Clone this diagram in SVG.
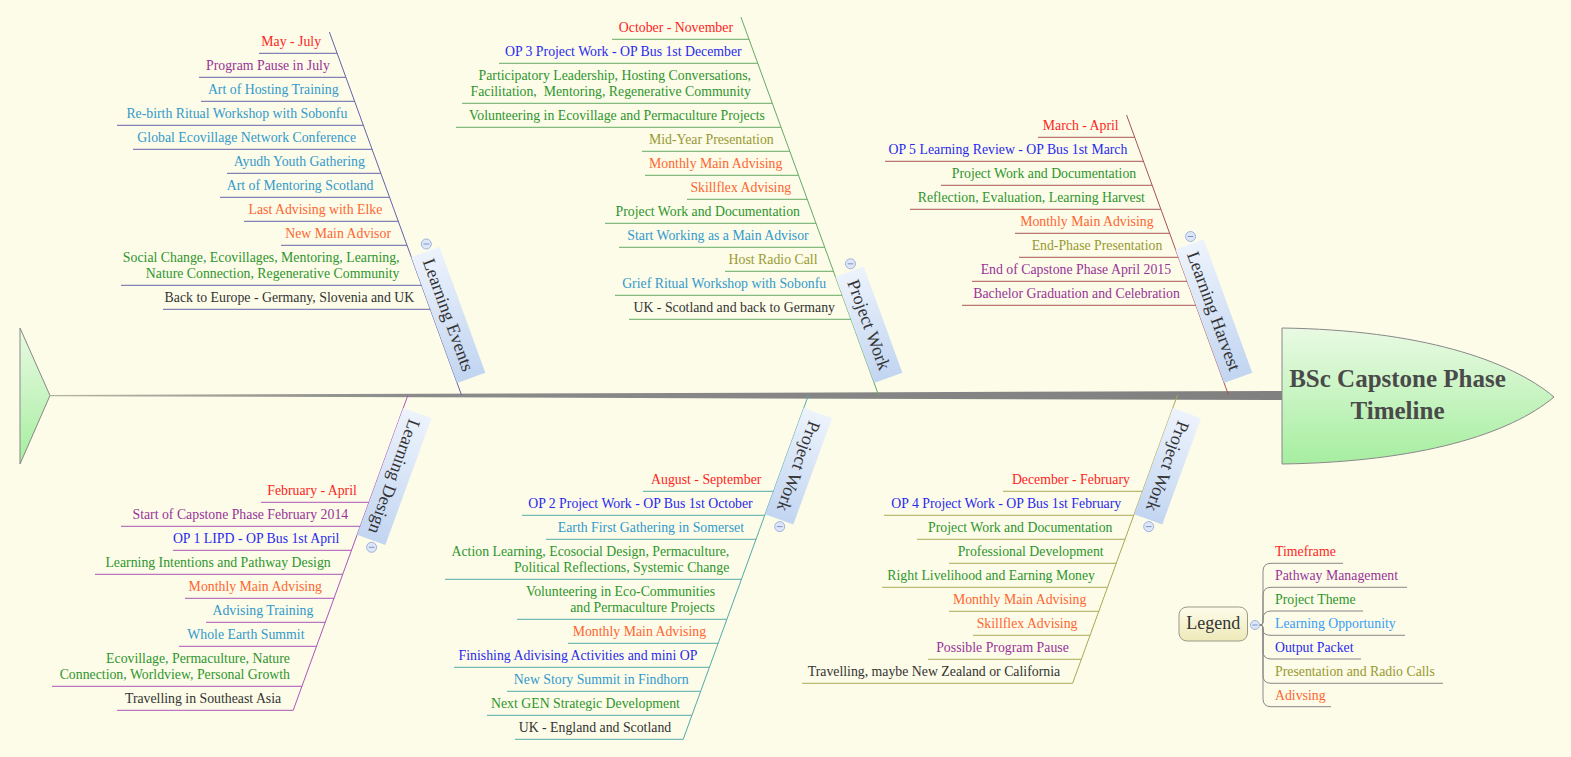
<svg xmlns="http://www.w3.org/2000/svg" width="1571" height="757" viewBox="0 0 1571 757">
<defs>
<linearGradient id="gGreen" x1="0" y1="0" x2="0" y2="1"><stop offset="0" stop-color="#e9faE3"/><stop offset="1" stop-color="#a6eea0"/></linearGradient>
<linearGradient id="gBox" x1="0" y1="0" x2="1" y2="0"><stop offset="0" stop-color="#edf3fc"/><stop offset="1" stop-color="#c2d5f1"/></linearGradient>
<linearGradient id="gLegend" x1="0" y1="0" x2="0" y2="1"><stop offset="0" stop-color="#fdfcea"/><stop offset="1" stop-color="#eee9b8"/></linearGradient>
<linearGradient id="gSpine" x1="0" y1="0" x2="1" y2="0"><stop offset="0" stop-color="#b4b4a4"/><stop offset="0.3" stop-color="#8a8a8a"/><stop offset="1" stop-color="#808080"/></linearGradient>
</defs>
<style>
text{font-family:"Liberation Serif","Times New Roman",serif;font-size:13.8px}
.it{text-anchor:end}
.red{fill:#ff2424}.pur{fill:#993399}.grn{fill:#2f952f}.lb{fill:#3399cc}.blu{fill:#2a2aee}.olv{fill:#999933}.org{fill:#ff6633}.drk{fill:#333333}.lop{fill:#3a9cf5}
.le{stroke:#6464aa;stroke-width:1;fill:none}
.pw1{stroke:#66aa66;stroke-width:1;fill:none}
.lh{stroke:#aa5555;stroke-width:1;fill:none}
.ld{stroke:#aa55bb;stroke-width:1;fill:none}
.pw2{stroke:#55aaaa;stroke-width:1;fill:none}
.pw3{stroke:#aaaa55;stroke-width:1;fill:none}
.lg{stroke:#888;stroke-width:1;fill:none}
.lbox{fill:url(#gBox)}
.lbl{font-size:18px;fill:#333;text-anchor:middle}
.col{fill:#dde7f8;stroke:#9fb2de;stroke-width:1}
.colm{stroke:#7f93c4;stroke-width:1}
</style>
<rect x="0" y="0" width="1571" height="757" fill="#fcfce8"/>

<g id="connectors">
<polygon points="50,395 1282,391 1282,400 50,396.2" fill="url(#gSpine)"/>
<line class="le" x1="329.4" y1="32" x2="461.5" y2="395"/>
<line class="pw1" x1="740.9" y1="17" x2="878.5" y2="395"/>
<line class="lh" x1="1126.6" y1="115" x2="1228.5" y2="395"/>
<line class="ld" x1="408" y1="395" x2="293.2" y2="710.3"/>
<line class="pw2" x1="808.5" y1="395" x2="683.2" y2="739.3"/>
<line class="pw3" x1="1177.5" y1="395" x2="1072.6" y2="683.3"/>
<path class="lg" d="M1259.5,625 C1263,625 1263,625 1263,615 L1263,571.3 Q1263,563.3 1271,563.3 H1343"/>
<path class="lg" d="M1259.5,625 C1263,625 1263,625 1263,615 L1263,595.3 Q1263,587.3 1271,587.3 H1407"/>
<path class="lg" d="M1259.5,625 C1263,625 1263,622 1263,619 Q1263,611 1271,611 H1363"/>
<path class="lg" d="M1259.5,625 C1263,625 1263,628 1263,630 Q1263,635.3 1271,635.3 H1405"/>
<path class="lg" d="M1259.5,625 C1263,625 1263,625 1263,635 L1263,651 Q1263,659 1271,659 H1361"/>
<path class="lg" d="M1259.5,625 C1263,625 1263,625 1263,635 L1263,675.3 Q1263,683.3 1271,683.3 H1443"/>
<path class="lg" d="M1259.5,625 C1263,625 1263,625 1263,635 L1263,698.7 Q1263,706.7 1271,706.7 H1331"/>
</g>

<g id="tail"><polygon points="20,328 50,395.5 20,464" fill="url(#gGreen)" stroke="#888" stroke-width="1"/></g>

<g id="head">
<path d="M1282,328 C1420,330 1510,360 1554,397 C1510,434 1420,462 1282,464 Z" fill="url(#gGreen)" stroke="#888" stroke-width="1"/>
<text x="1397.5" y="387" style="font-size:25px;font-weight:bold;fill:#4a4a4a;text-anchor:middle">BSc Capstone Phase</text>
<text x="1397.5" y="418.5" style="font-size:25px;font-weight:bold;fill:#4a4a4a;text-anchor:middle">Timeline</text>
</g>

<!-- Learning Events -->
<g id="learning-events">
<g transform="translate(411.3,257) rotate(70)"><rect class="lbox" x="0" y="-30" width="134" height="30"/><text class="lbl" x="67" y="-9">Learning Events</text></g>
<circle class="col" cx="426.3" cy="244" r="5"/><line class="colm" x1="423.5" y1="244" x2="429.1" y2="244"/>
</g>
<g id="le-items">
<g id="le1"><text class="it red" x="321.1" y="45.8">May - July</text><line class="le" x1="259" y1="53.3" x2="337.1" y2="53.3"/></g>
<g id="le2"><text class="it pur" x="329.8" y="69.8">Program Pause in July</text><line class="le" x1="199" y1="77.3" x2="345.8" y2="77.3"/></g>
<g id="le3"><text class="it lb" x="338.6" y="93.8">Art of Hosting Training</text><line class="le" x1="201" y1="101.3" x2="354.6" y2="101.3"/></g>
<g id="le4"><text class="it lb" x="347.3" y="117.8">Re-birth Ritual Workshop with Sobonfu</text><line class="le" x1="117" y1="125.3" x2="363.3" y2="125.3"/></g>
<g id="le5"><text class="it lb" x="356.1" y="141.8">Global Ecovillage Network Conference</text><line class="le" x1="133" y1="149.3" x2="372.1" y2="149.3"/></g>
<g id="le6"><text class="it lb" x="364.8" y="165.8">Ayudh Youth Gathering</text><line class="le" x1="227" y1="173.3" x2="380.8" y2="173.3"/></g>
<g id="le7"><text class="it lb" x="373.5" y="189.8">Art of Mentoring Scotland</text><line class="le" x1="220" y1="197.3" x2="389.5" y2="197.3"/></g>
<g id="le8"><text class="it org" x="382.3" y="213.8">Last Advising with Elke</text><line class="le" x1="244" y1="221.3" x2="398.3" y2="221.3"/></g>
<g id="le9"><text class="it org" x="391" y="237.8">New Main Advisor</text><line class="le" x1="281" y1="245.3" x2="407" y2="245.3"/></g>
<g id="le10"><text class="it grn" x="399.5" y="261.8">Social Change, Ecovillages, Mentoring, Learning,</text><text class="it grn" x="399.5" y="277.8">Nature Connection, Regenerative Community</text><line class="le" x1="121" y1="285.3" x2="421.6" y2="285.3"/></g>
<g id="le11"><text class="it drk" x="414.3" y="301.8">Back to Europe - Germany, Slovenia and UK</text><line class="le" x1="163" y1="309.3" x2="430.3" y2="309.3"/></g>
</g>

<!-- Project Work (upper) -->
<g id="project-work-1">
<g transform="translate(835.5,276.8) rotate(70)"><rect class="lbox" x="0" y="-30" width="113" height="30"/><text class="lbl" x="56.5" y="-9">Project Work</text></g>
<circle class="col" cx="850.5" cy="263.8" r="5"/><line class="colm" x1="847.7" y1="263.8" x2="853.3" y2="263.8"/>
</g>
<g id="pw1-items">
<g id="pw1a"><text class="it red" x="733" y="31.8">October - November</text><line class="pw1" x1="612" y1="39.3" x2="749" y2="39.3"/></g>
<g id="pw1b"><text class="it blu" x="741.7" y="55.8">OP 3 Project Work - OP Bus 1st December</text><line class="pw1" x1="499" y1="63.3" x2="757.7" y2="63.3"/></g>
<g id="pw1c"><text class="it grn" x="751" y="79.8">Participatory Leadership, Hosting Conversations,</text><text class="it grn" x="751" y="95.8">Facilitation,&#160; Mentoring, Regenerative Community</text><line class="pw1" x1="462" y1="103.3" x2="772.3" y2="103.3"/></g>
<g id="pw1d"><text class="it grn" x="765" y="119.8">Volunteering in Ecovillage and Permaculture Projects</text><line class="pw1" x1="456" y1="127.3" x2="781" y2="127.3"/></g>
<g id="pw1e"><text class="it olv" x="773.7" y="143.8">Mid-Year Presentation</text><line class="pw1" x1="642" y1="151.3" x2="789.7" y2="151.3"/></g>
<g id="pw1f"><text class="it org" x="782.4" y="167.8">Monthly Main Advising</text><line class="pw1" x1="645" y1="175.3" x2="798.4" y2="175.3"/></g>
<g id="pw1g"><text class="it org" x="791.2" y="191.8">Skillflex Advising</text><line class="pw1" x1="687" y1="199.3" x2="807.2" y2="199.3"/></g>
<g id="pw1h"><text class="it grn" x="800" y="215.8">Project Work and Documentation</text><line class="pw1" x1="605" y1="223.3" x2="816" y2="223.3"/></g>
<g id="pw1i"><text class="it lb" x="808.7" y="239.8">Start Working as a Main Advisor</text><line class="pw1" x1="619" y1="247.3" x2="824.7" y2="247.3"/></g>
<g id="pw1j"><text class="it olv" x="817.5" y="263.8">Host Radio Call</text><line class="pw1" x1="725" y1="271.3" x2="833.5" y2="271.3"/></g>
<g id="pw1k"><text class="it lb" x="826.2" y="287.8">Grief Ritual Workshop with Sobonfu</text><line class="pw1" x1="615" y1="295.3" x2="842.2" y2="295.3"/></g>
<g id="pw1l"><text class="it drk" x="835" y="311.8">UK - Scotland and back to Germany</text><line class="pw1" x1="629" y1="319.3" x2="851" y2="319.3"/></g>
</g>

<!-- Learning Harvest -->
<g id="learning-harvest">
<g transform="translate(1175.5,249.5) rotate(70)"><rect class="lbox" x="0" y="-30" width="142" height="30"/><text class="lbl" x="71" y="-9">Learning Harvest</text></g>
<circle class="col" cx="1190.5" cy="236.5" r="5"/><line class="colm" x1="1187.7" y1="236.5" x2="1193.3" y2="236.5"/>
</g>
<g id="lh-items">
<g id="lh1"><text class="it red" x="1118.7" y="129.8">March - April</text><line class="lh" x1="1038" y1="137.3" x2="1134.7" y2="137.3"/></g>
<g id="lh2"><text class="it blu" x="1127.4" y="153.8">OP 5 Learning Review - OP Bus 1st March</text><line class="lh" x1="885" y1="161.3" x2="1143.4" y2="161.3"/></g>
<g id="lh3"><text class="it grn" x="1136.2" y="177.8">Project Work and Documentation</text><line class="lh" x1="941" y1="185.3" x2="1152.2" y2="185.3"/></g>
<g id="lh4"><text class="it grn" x="1144.9" y="201.8">Reflection, Evaluation, Learning Harvest</text><line class="lh" x1="910" y1="209.3" x2="1160.9" y2="209.3"/></g>
<g id="lh5"><text class="it org" x="1153.6" y="225.8">Monthly Main Advising</text><line class="lh" x1="1015" y1="233.3" x2="1169.6" y2="233.3"/></g>
<g id="lh6"><text class="it olv" x="1162.3" y="249.8">End-Phase Presentation</text><line class="lh" x1="1019" y1="257.3" x2="1178.3" y2="257.3"/></g>
<g id="lh7"><text class="it pur" x="1171.1" y="273.8">End of Capstone Phase April 2015</text><line class="lh" x1="972" y1="281.3" x2="1187.1" y2="281.3"/></g>
<g id="lh8"><text class="it pur" x="1179.8" y="297.8">Bachelor Graduation and Celebration</text><line class="lh" x1="962" y1="305.3" x2="1195.8" y2="305.3"/></g>
</g>

<!-- Learning Design -->
<g id="learning-design">
<g transform="translate(403.3,408) rotate(110)"><rect class="lbox" x="0" y="-30" width="135" height="30"/><text class="lbl" x="67.5" y="-9">Learning Design</text></g>
<circle class="col" cx="371.6" cy="547.3" r="5"/><line class="colm" x1="368.8" y1="547.3" x2="374.4" y2="547.3"/>
</g>
<g id="ld-items">
<g id="ld1"><text class="it red" x="356.9" y="494.8">February - April</text><line class="ld" x1="261" y1="502.3" x2="368.9" y2="502.3"/></g>
<g id="ld2"><text class="it pur" x="348.2" y="518.8">Start of Capstone Phase February 2014</text><line class="ld" x1="121" y1="526.3" x2="360.2" y2="526.3"/></g>
<g id="ld3"><text class="it blu" x="339.4" y="542.8">OP 1 LIPD - OP Bus 1st April</text><line class="ld" x1="173" y1="550.3" x2="351.4" y2="550.3"/></g>
<g id="ld4"><text class="it grn" x="330.7" y="566.8">Learning Intentions and Pathway Design</text><line class="ld" x1="95" y1="574.3" x2="342.7" y2="574.3"/></g>
<g id="ld5"><text class="it org" x="322" y="590.8">Monthly Main Advising</text><line class="ld" x1="185" y1="598.3" x2="334" y2="598.3"/></g>
<g id="ld6"><text class="it lb" x="313.3" y="614.8">Advising Training</text><line class="ld" x1="206" y1="622.3" x2="325.3" y2="622.3"/></g>
<g id="ld7"><text class="it lb" x="304.5" y="638.8">Whole Earth Summit</text><line class="ld" x1="179" y1="646.3" x2="316.5" y2="646.3"/></g>
<g id="ld8"><text class="it grn" x="290" y="662.8">Ecovillage, Permaculture, Nature</text><text class="it grn" x="290" y="678.8">Connection, Worldview, Personal Growth</text><line class="ld" x1="52" y1="686.3" x2="302" y2="686.3"/></g>
<g id="ld9"><text class="it drk" x="281.2" y="702.8">Travelling in Southeast Asia</text><line class="ld" x1="117" y1="710.3" x2="293.2" y2="710.3"/></g>
</g>

<!-- Project Work (lower middle) -->
<g id="project-work-2">
<g transform="translate(803.8,408) rotate(110)"><rect class="lbox" x="0" y="-30" width="113" height="30"/><text class="lbl" x="56.5" y="-9">Project Work</text></g>
<circle class="col" cx="779.7" cy="526.6" r="5"/><line class="colm" x1="776.9" y1="526.6" x2="782.5" y2="526.6"/>
</g>
<g id="pw2-items">
<g id="pw2a"><text class="it red" x="761.4" y="483.8">August - September</text><line class="pw2" x1="643" y1="491.3" x2="773.4" y2="491.3"/></g>
<g id="pw2b"><text class="it blu" x="752.7" y="507.8">OP 2 Project Work - OP Bus 1st October</text><line class="pw2" x1="522" y1="515.3" x2="764.7" y2="515.3"/></g>
<g id="pw2c"><text class="it lb" x="744" y="531.8">Earth First Gathering in Somerset</text><line class="pw2" x1="546" y1="539.3" x2="756" y2="539.3"/></g>
<g id="pw2d"><text class="it grn" x="729.3" y="555.8">Action Learning, Ecosocial Design, Permaculture,</text><text class="it grn" x="729.3" y="571.8">Political Reflections, Systemic Change</text><line class="pw2" x1="445" y1="579.3" x2="741.4" y2="579.3"/></g>
<g id="pw2e"><text class="it grn" x="715" y="595.8">Volunteering in Eco-Communities</text><text class="it grn" x="715" y="611.8">and Permaculture Projects</text><line class="pw2" x1="517" y1="619.3" x2="726.9" y2="619.3"/></g>
<g id="pw2f"><text class="it org" x="706.1" y="635.8">Monthly Main Advising</text><line class="pw2" x1="568" y1="643.3" x2="718.1" y2="643.3"/></g>
<g id="pw2g"><text class="it blu" x="697.4" y="659.8">Finishing Adivising Activities and mini OP</text><line class="pw2" x1="454" y1="667.3" x2="709.4" y2="667.3"/></g>
<g id="pw2h"><text class="it lb" x="688.6" y="683.8">New Story Summit in Findhorn</text><line class="pw2" x1="507" y1="691.3" x2="700.6" y2="691.3"/></g>
<g id="pw2i"><text class="it grn" x="679.9" y="707.8">Next GEN Strategic Development</text><line class="pw2" x1="487" y1="715.3" x2="691.9" y2="715.3"/></g>
<g id="pw2j"><text class="it drk" x="671.2" y="731.8">UK - England and Scotland</text><line class="pw2" x1="515" y1="739.3" x2="683.2" y2="739.3"/></g>
</g>

<!-- Project Work (lower right) -->
<g id="project-work-3">
<g transform="translate(1172.8,408) rotate(110)"><rect class="lbox" x="0" y="-30" width="113" height="30"/><text class="lbl" x="56.5" y="-9">Project Work</text></g>
<circle class="col" cx="1148.7" cy="526.6" r="5"/><line class="colm" x1="1145.9" y1="526.6" x2="1151.5" y2="526.6"/>
</g>
<g id="pw3-items">
<g id="pw3a"><text class="it red" x="1129.9" y="483.8">December - February</text><line class="pw3" x1="1003" y1="491.3" x2="1142.4" y2="491.3"/></g>
<g id="pw3b"><text class="it blu" x="1121.2" y="507.8">OP 4 Project Work - OP Bus 1st February</text><line class="pw3" x1="884" y1="515.3" x2="1133.7" y2="515.3"/></g>
<g id="pw3c"><text class="it grn" x="1112.5" y="531.8">Project Work and Documentation</text><line class="pw3" x1="917" y1="539.3" x2="1125" y2="539.3"/></g>
<g id="pw3d"><text class="it grn" x="1103.7" y="555.8">Professional Development</text><line class="pw3" x1="949" y1="563.3" x2="1116.2" y2="563.3"/></g>
<g id="pw3e"><text class="it grn" x="1095" y="579.8">Right Livelihood and Earning Money</text><line class="pw3" x1="882" y1="587.3" x2="1107.5" y2="587.3"/></g>
<g id="pw3f"><text class="it org" x="1086.3" y="603.8">Monthly Main Advising</text><line class="pw3" x1="949" y1="611.3" x2="1098.8" y2="611.3"/></g>
<g id="pw3g"><text class="it org" x="1077.5" y="627.8">Skillflex Advising</text><line class="pw3" x1="973" y1="635.3" x2="1090" y2="635.3"/></g>
<g id="pw3h"><text class="it pur" x="1068.8" y="651.8">Possible Program Pause</text><line class="pw3" x1="928" y1="659.3" x2="1081.3" y2="659.3"/></g>
<g id="pw3i"><text class="it drk" x="1060.1" y="675.8">Travelling, maybe New Zealand or California</text><line class="pw3" x1="802" y1="683.3" x2="1072.6" y2="683.3"/></g>
</g>

<!-- Legend -->
<g id="legend">
<rect x="1179" y="607" width="68.5" height="34" rx="8" fill="url(#gLegend)" stroke="#9a9a8a" stroke-width="1"/>
<text x="1213.3" y="629" style="font-size:18px;fill:#333;text-anchor:middle">Legend</text>
<circle class="col" cx="1255" cy="625" r="4.5"/><line class="colm" x1="1252.5" y1="625" x2="1257.5" y2="625"/>
</g>
<g id="legend-items">
<text class="red" x="1275" y="556">Timeframe</text>
<text class="pur" x="1275" y="580">Pathway Management</text>
<text class="grn" x="1275" y="603.5">Project Theme</text>
<text class="lop" x="1275" y="628">Learning Opportunity</text>
<text class="blu" x="1275" y="651.5">Output Packet</text>
<text class="olv" x="1275" y="676">Presentation and Radio Calls</text>
<text class="org" x="1275" y="699.5">Adivsing</text>
</g>
</svg>
